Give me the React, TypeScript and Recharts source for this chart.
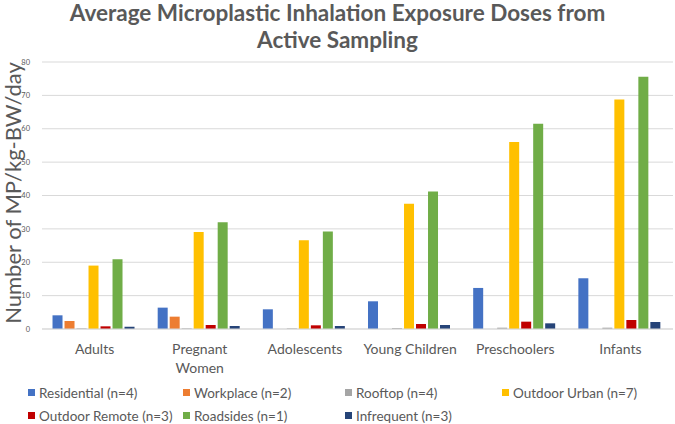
import React from "react";
import { BarChart, Bar, XAxis, YAxis, CartesianGrid, Legend } from "recharts";

const categories = ["Adults", "Pregnant Women", "Adolescents", "Young Children", "Preschoolers", "Infants"];
const tickLines: string[][] = [["Adults"], ["Pregnant", "Women"], ["Adolescents"], ["Young Children"], ["Preschoolers"], ["Infants"]];

const residential = [4.1, 6.4, 5.9, 8.3, 12.3, 15.2];
const workplace = [2.4, 3.7, 0, 0, 0, 0];
const rooftop = [0.2, 0.2, 0.2, 0.3, 0.4, 0.4];
const outdoorUrban = [19.0, 29.1, 26.6, 37.5, 56.0, 68.8];
const outdoorRemote = [0.8, 1.2, 1.1, 1.5, 2.2, 2.7];
const roadsides = [20.9, 32.0, 29.2, 41.2, 61.5, 75.6];
const infrequent = [0.7, 0.9, 0.9, 1.2, 1.7, 2.1];

const yTicks = [0, 10, 20, 30, 40, 50, 60, 70, 80];

const seriesDefs = [
  { key: "residential", name: "Residential (n=4)", color: "#4472C4", values: residential },
  { key: "workplace", name: "Workplace (n=2)", color: "#ED7D31", values: workplace },
  { key: "rooftop", name: "Rooftop (n=4)", color: "#A5A5A5", values: rooftop },
  { key: "outdoorUrban", name: "Outdoor Urban (n=7)", color: "#FFC000", values: outdoorUrban },
  { key: "outdoorRemote", name: "Outdoor Remote (n=3)", color: "#C00000", values: outdoorRemote },
  { key: "roadsides", name: "Roadsides (n=1)", color: "#70AD47", values: roadsides },
  { key: "infrequent", name: "Infrequent (n=3)", color: "#264478", values: infrequent },
];

const data = categories.map((c, i) => {
  const row: Record<string, any> = { category: c, idx: i };
  seriesDefs.forEach((s) => (row[s.key] = s.values[i]));
  return row;
});

const FONT = "Lato, 'Open Sans', sans-serif";
const TEXT = "#595959";

const XTick = (props: any) => {
  const { x, y, payload } = props;
  const lines = tickLines[payload.index] || [payload.value];
  return (
    <g>
      {lines.map((l, i) => (
        <text key={i} x={x} y={y + 17 + i * 19} textAnchor="middle" fill={TEXT} fontSize={14} fontFamily={FONT}>
          {l}
        </text>
      ))}
    </g>
  );
};

const LegendContent = () => (
  <div
    style={{
      height: 50,
      width: 675,
      display: "grid",
      gridTemplateColumns: "155px 162px 157px 160px",
      gridAutoRows: "23px",
      paddingLeft: 28,
      paddingTop: 7,
      boxSizing: "border-box",
      fontFamily: FONT,
      fontSize: 13.5,
      color: TEXT,
    }}
  >
    {seriesDefs.map((s) => (
      <div key={s.key} style={{ display: "flex", alignItems: "center", whiteSpace: "nowrap", overflow: "visible" }}>
        <span
          style={{ display: "inline-block", flexShrink: 0, width: 7, height: 7, background: s.color, marginRight: 4 }}
        />
        <span>{s.name}</span>
      </div>
    ))}
  </div>
);

const YLabel = () => (
  <text
    x={21}
    y={193}
    transform="rotate(-90 21 193)"
    textAnchor="middle"
    fill={TEXT}
    fontSize={22}
    fontFamily={FONT}
  >
    Number of MP/kg-BW/day
  </text>
);

export default function App() {
  return (
    <div style={{ position: "absolute", left: 0, top: 0, width: 675, height: 424, background: "#fff" }}>
      <div
        style={{
          position: "absolute",
          top: -1,
          left: 0,
          width: 675,
          textAlign: "center",
          fontFamily: FONT,
          fontWeight: 700,
          fontSize: 22.5,
          lineHeight: "27px",
          color: TEXT,
        }}
      >
        Average Microplastic Inhalation Exposure Doses from
        <br />
        Active Sampling
      </div>
      <BarChart
        width={675}
        height={424}
        data={data}
        margin={{ top: 62, right: 2, left: 0, bottom: 0 }}
        barCategoryGap="10%"
        barGap={2}
      >
        <CartesianGrid vertical={false} stroke="#D9D9D9" />
        <XAxis
          dataKey="category"
          height={45}
          interval={0}
          tick={<XTick />}
          tickLine={false}
          axisLine={{ stroke: "#D9D9D9" }}
        />
        <YAxis
          width={42}
          domain={[0, 80]}
          ticks={yTicks}
          tick={{ fill: TEXT, fontSize: 7.5, fontFamily: FONT }}
          tickLine={false}
          axisLine={false}
          tickMargin={6}
          label={<YLabel />}
        />
        <Legend verticalAlign="bottom" content={<LegendContent />} wrapperStyle={{ left: 0, bottom: 0, width: 675 }} />
        {seriesDefs.map((s) => (
          <Bar key={s.key} dataKey={s.key} name={s.name} fill={s.color} isAnimationActive={false} />
        ))}
      </BarChart>
    </div>
  );
}
